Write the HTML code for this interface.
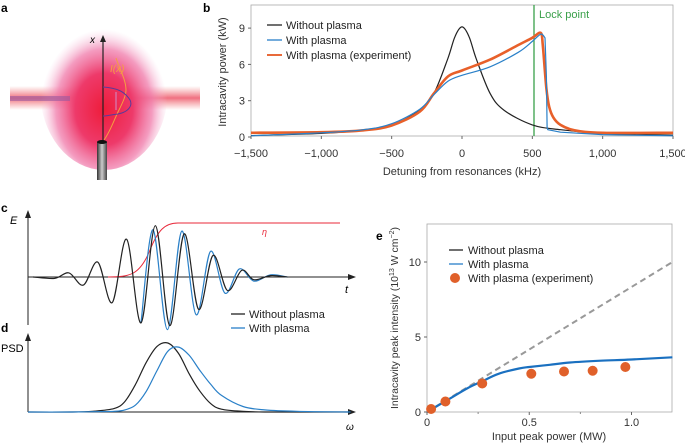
<!DOCTYPE html>
<html><head><meta charset="utf-8"><style>
body{margin:0;background:#fff}
svg{display:block;font-family:"Liberation Sans",sans-serif}
</style></head><body>
<svg id="fig" width="685" height="445" viewBox="0 0 685 445">
<defs>
<radialGradient id="blob" cx="0.5" cy="0.62" r="0.5">
<stop offset="0" stop-color="#ee1c3a"/><stop offset="0.45" stop-color="#ee3a6a"/><stop offset="0.75" stop-color="#f07aaa" stop-opacity="0.75"/><stop offset="1" stop-color="#f6c0dc" stop-opacity="0"/>
</radialGradient>
<linearGradient id="beam" x1="0" y1="0" x2="0" y2="1">
<stop offset="0" stop-color="#f48a8a" stop-opacity="0"/><stop offset="0.5" stop-color="#f07080"/><stop offset="1" stop-color="#f48a8a" stop-opacity="0"/>
</linearGradient>
<linearGradient id="fib" x1="0" x2="1"><stop offset="0" stop-color="#333"/><stop offset="0.5" stop-color="#ccc"/><stop offset="1" stop-color="#444"/></linearGradient>
</defs>

<g>
<text x="1" y="12" font-weight="bold" font-size="12">a</text>
<rect x="10" y="86" width="190" height="24" fill="url(#beam)"/>
<ellipse cx="104" cy="90" rx="64" ry="80" fill="url(#blob)"/>
<rect x="10" y="96" width="60" height="5" fill="#9a5aa0" opacity="0.6"/>
<line x1="103" y1="144" x2="103" y2="40" stroke="#222" stroke-width="1.2"/>
<polygon points="103,35 100,42 106,42" fill="#222"/>
<text x="90" y="43" font-size="10" font-style="italic">x</text>
<path d="M104,140 C110,132 114,120 118,112 C122,104 126,96 126,90 C126,80 120,70 116,58" stroke="#f5a040" fill="none" stroke-width="1"/>
<text x="110" y="72" font-size="10" font-style="italic" fill="#f5a040">I(x)</text>
<path d="M103,87 C118,88 125,92 130,100 C133,106 128,112 118,114 C110,115 106,116 103,116" stroke="#5a3a9a" fill="none" stroke-width="1"/>
<line x1="116" y1="92" x2="116" y2="110" stroke="#c8a8e8" stroke-width="0.8"/>
<rect x="97" y="142" width="10" height="38" fill="url(#fib)"/>
<ellipse cx="102" cy="142" rx="5" ry="2" fill="#111"/>
</g>

<g id="pb">
<text x="203" y="12" font-weight="bold" font-size="12">b</text>
<rect x="251" y="5" width="422" height="131" fill="none" stroke="#aaa" stroke-width="0.8"/>
<text transform="translate(226,72) rotate(-90)" text-anchor="middle" font-size="11" fill="#333">Intracavity power (kW)</text>
<text x="462" y="175" text-anchor="middle" font-size="11" fill="#333">Detuning from resonances (kHz)</text>
<line x1="534" y1="5" x2="534" y2="136" stroke="#3aa04a" stroke-width="1.3"/>
<text x="539" y="18" font-size="11" fill="#3aa04a">Lock point</text>
<line x1="267" y1="25" x2="282" y2="25" stroke="#222" stroke-width="1.3"/>
<text x="286" y="29" font-size="11" fill="#222">Without plasma</text>
<line x1="267" y1="40" x2="282" y2="40" stroke="#2a80c8" stroke-width="1.3"/>
<text x="286" y="44" font-size="11" fill="#222">With plasma</text>
<line x1="267" y1="55" x2="282" y2="55" stroke="#e86a3a" stroke-width="2"/>
<text x="286" y="59" font-size="11" fill="#222">With plasma (experiment)</text>
</g>

<g id="pc">
<text x="1" y="212" font-weight="bold" font-size="12">c</text>
<text x="10" y="224" font-size="11" font-style="italic">E</text>
<line x1="28" y1="216" x2="28" y2="325" stroke="#222" stroke-width="1"/>
<polygon points="28,210 25,218 31,218" fill="#222"/>
<line x1="28" y1="277" x2="350" y2="277" stroke="#222" stroke-width="1"/>
<polygon points="356,277 348,274 348,280" fill="#222"/>
<text x="345" y="293" font-size="11" font-style="italic">t</text>
<path d="M108,277 C130,277 140,275 150,250 C158,230 165,223 178,223 L340,223" stroke="#e8283a" fill="none" stroke-width="1"/>
<text x="262" y="235" font-size="9" font-style="italic" fill="#e8283a">η</text>
<line x1="231" y1="314" x2="245" y2="314" stroke="#222" stroke-width="1.3"/>
<text x="249" y="318" font-size="11" fill="#222">Without plasma</text>
<line x1="231" y1="328" x2="245" y2="328" stroke="#2a80c8" stroke-width="1.3"/>
<text x="249" y="332" font-size="11" fill="#222">With plasma</text>
</g>

<g id="pd">
<text x="1" y="332" font-weight="bold" font-size="12">d</text>
<text x="1" y="352" font-size="11">PSD</text>
<line x1="28" y1="339" x2="28" y2="412" stroke="#222" stroke-width="1"/>
<polygon points="28,333 25,341 31,341" fill="#222"/>
<line x1="28" y1="412" x2="350" y2="412" stroke="#222" stroke-width="1"/>
<polygon points="356,412 348,409 348,415" fill="#222"/>
<text x="346" y="430" font-size="10" font-style="italic">ω</text>
</g>

<g id="pe">
<text x="376" y="240" font-weight="bold" font-size="12">e</text>
<rect x="427" y="224" width="245" height="188" fill="none" stroke="#aaa" stroke-width="0.8"/>
<text transform="translate(398,318) rotate(-90)" text-anchor="middle" font-size="10.5" fill="#333">Intracavity peak intensity (10<tspan dy="-4" font-size="7">13</tspan><tspan dy="4"> W cm</tspan><tspan dy="-4" font-size="7">−2</tspan><tspan dy="4">)</tspan></text>
<text x="549" y="440" text-anchor="middle" font-size="11" fill="#333">Input peak power (MW)</text>
<line x1="449" y1="250" x2="463" y2="250" stroke="#222" stroke-width="1.3"/>
<text x="468" y="254" font-size="11" fill="#222">Without plasma</text>
<line x1="449" y1="264" x2="463" y2="264" stroke="#2a80c8" stroke-width="1.3"/>
<text x="468" y="268" font-size="11" fill="#222">With plasma</text>
<circle cx="455" cy="278" r="5" fill="#e0602a"/>
<text x="468" y="282" font-size="11" fill="#222">With plasma (experiment)</text>
</g>
</svg>
<script>
const bTicksX = [-1500,-1000,-500,0,500,1000,1500];
const bTickLabelsX = ["−1,500","−1,000","−500","0","500","1,000","1,500"];
const bTicksY = [0,3,6,9];
const blackX = [-1500,-1000,-700,-500,-300,-200,-100,-50,0,50,100,200,300,500,700,1000,1500];
const blackY = [0.12,0.3,0.55,1.0,2.2,3.6,6.5,8.3,9.1,8.3,6.5,3.6,2.2,1.0,0.6,0.3,0.15];
const blueX = [-1500,-1000,-700,-500,-300,-200,-100,0,200,400,500,560,590];
const blueY = [0.1,0.35,0.6,1.1,2.3,3.5,4.6,5.1,5.8,7.0,7.9,8.5,8.2];
const blueTailX = [590,600,605,610,700,1000,1500];
const blueTailY = [8.2,5.0,0.8,0.6,0.4,0.2,0.1];
const expX = [-1500,-1000,-700,-500,-300,-200,-100,0,200,400,500,560,575,600,620,650,700,800,1000,1500];
const expY = [0.35,0.4,0.55,0.95,2.1,3.6,5.0,5.5,6.4,7.6,8.2,8.6,7.5,4.0,2.5,1.6,1.0,0.55,0.35,0.35];
const cBlackT = [0,9,15,21,27,33,39,45,51,57,63,69,75,81,87,92,99,106];
const cBlackE = [0,-0.05,0.15,-0.3,0.55,-0.95,1.4,-1.7,1.9,-1.8,1.6,-1.2,0.8,-0.5,0.25,-0.1,0.05,0];
const cBlueT = [45,50,56,62,68,74,80,86,92,99,106];
const cBlueE = [-1.7,1.75,-1.95,1.7,-1.4,0.95,-0.6,0.3,-0.15,0.08,0];
const dW = [0,20,30,40,45,50,55,60,65,70,75,80,85,90,100,110,125,150];
const dBlack = [0,0,0.01,0.05,0.15,0.4,0.72,0.95,1.0,0.85,0.55,0.3,0.12,0.04,0.01,0,0,0];
const dBlue = [0,0,0.005,0.01,0.03,0.1,0.3,0.6,0.88,0.94,0.82,0.6,0.4,0.24,0.08,0.03,0.01,0];
const eTicksX = [0,0.5,1.0];
const eTickLabelsX = ["0","0.5","1.0"];
const eTicksY = [0,5,10];
const eLinX = [0,1.2];
const eLinY = [0,10];
const eBlueX = [0,0.1,0.2,0.27,0.35,0.45,0.5,0.6,0.7,0.85,1.0,1.2];
const eBlueY = [0,0.8,1.6,2.05,2.55,2.9,3.0,3.15,3.3,3.42,3.5,3.65];
const eExpX = [0.02,0.09,0.27,0.51,0.67,0.81,0.97];
const eExpY = [0.2,0.7,1.9,2.55,2.7,2.75,3.0];

const NS="http://www.w3.org/2000/svg";
function mk(parent,tag,attrs){const e=document.createElementNS(NS,tag);for(const k in attrs)e.setAttribute(k,attrs[k]);parent.appendChild(e);return e;}
function smooth(pts){let d="M"+pts[0][0]+","+pts[0][1];for(let i=0;i<pts.length-1;i++){const p0=pts[Math.max(0,i-1)],p1=pts[i],p2=pts[i+1],p3=pts[Math.min(pts.length-1,i+2)];const c1=[p1[0]+(p2[0]-p0[0])/6,p1[1]+(p2[1]-p0[1])/6],c2=[p2[0]-(p3[0]-p1[0])/6,p2[1]-(p3[1]-p1[1])/6];d+=" C"+c1[0].toFixed(1)+","+c1[1].toFixed(1)+" "+c2[0].toFixed(1)+","+c2[1].toFixed(1)+" "+p2[0].toFixed(1)+","+p2[1].toFixed(1);}return d;}

const pb=document.getElementById('pb');
const bx=v=>251+(v+1500)/3000*422, by=v=>137-v*12.1;
bTicksX.forEach((t,i)=>{mk(pb,'line',{x1:bx(t),x2:bx(t),y1:136,y2:139,stroke:'#666'});
 const tx=mk(pb,'text',{x:bx(t),y:157,'text-anchor':'middle','font-size':11,fill:'#333'});tx.textContent=bTickLabelsX[i];
 
 });
bTicksY.forEach(t=>{mk(pb,'line',{x1:248,x2:251,y1:by(t),y2:by(t),stroke:'#666'});
 const tx=mk(pb,'text',{x:245,y:by(t)+4,'text-anchor':'end','font-size':11,fill:'#333'});tx.textContent=t;
 
 });
const lb=mk(pb,'path',{d:smooth(blackX.map((x,i)=>[bx(x),by(blackY[i])])),fill:'none',stroke:'#222','stroke-width':1.2});


const le=mk(pb,'path',{d:smooth(expX.map((x,i)=>[bx(x),by(expY[i])])),fill:'none',stroke:'#e8602a','stroke-width':2.6});


const lu=mk(pb,'path',{d:smooth(blueX.map((x,i)=>[bx(x),by(blueY[i])]))+" L"+blueTailX.map((x,i)=>bx(x).toFixed(1)+","+by(blueTailY[i]).toFixed(1)).join(" L"),fill:'none',stroke:'#2a80c8','stroke-width':1.2,'stroke-linejoin':'round'});



const pc=document.getElementById('pc');
const cx=t=>33+t*2.4, cy=v=>277-v*27;
const cbl=mk(pc,'path',{d:smooth(cBlueT.map((t,i)=>[cx(t),cy(cBlueE[i])])),fill:'none',stroke:'#2a80c8','stroke-width':1.2});


const cbk=mk(pc,'path',{d:smooth(cBlackT.map((t,i)=>[cx(t),cy(cBlackE[i])])),fill:'none',stroke:'#222','stroke-width':1.2});



const pd=document.getElementById('pd');
const dx=w=>28+w*2.15, dy=v=>412-v*69;
const dbk=mk(pd,'path',{d:smooth(dW.map((w,i)=>[dx(w),dy(dBlack[i])])),fill:'none',stroke:'#222','stroke-width':1.2});


const dbl=mk(pd,'path',{d:smooth(dW.map((w,i)=>[dx(w),dy(dBlue[i])])),fill:'none',stroke:'#2a80c8','stroke-width':1.2});



const pe=document.getElementById('pe');
const ex=v=>427+v*204.5, ey=v=>412-v*15;
eTicksX.forEach((t,i)=>{mk(pe,'line',{x1:ex(t),x2:ex(t),y1:412,y2:415,stroke:'#666'});
 const tx=mk(pe,'text',{x:ex(t),y:426,'text-anchor':'middle','font-size':11,fill:'#333'});tx.textContent=eTickLabelsX[i];
 
 });
[0.25,0.75].forEach(t=>mk(pe,'line',{x1:ex(t),x2:ex(t),y1:412,y2:414,stroke:'#888'}));
eTicksY.forEach(t=>{mk(pe,'line',{x1:424,x2:427,y1:ey(t),y2:ey(t),stroke:'#666'});
 const tx=mk(pe,'text',{x:421,y:ey(t)+4,'text-anchor':'end','font-size':11,fill:'#333'});tx.textContent=t;
 
 });
const dl=mk(pe,'line',{x1:ex(eLinX[0]),y1:ey(eLinY[0]),x2:ex(eLinX[1]),y2:ey(eLinY[1]),stroke:'#999','stroke-width':2,'stroke-dasharray':'6,4'});


const eb=mk(pe,'path',{d:smooth(eBlueX.map((x,i)=>[ex(x),ey(eBlueY[i])])),fill:'none',stroke:'#1a70c0','stroke-width':2.2});


eExpX.forEach((x,i)=>{const c=mk(pe,'circle',{cx:ex(x),cy:ey(eExpY[i]),r:5,fill:'#e0602a'});
 
 });
</script>
</body></html>
